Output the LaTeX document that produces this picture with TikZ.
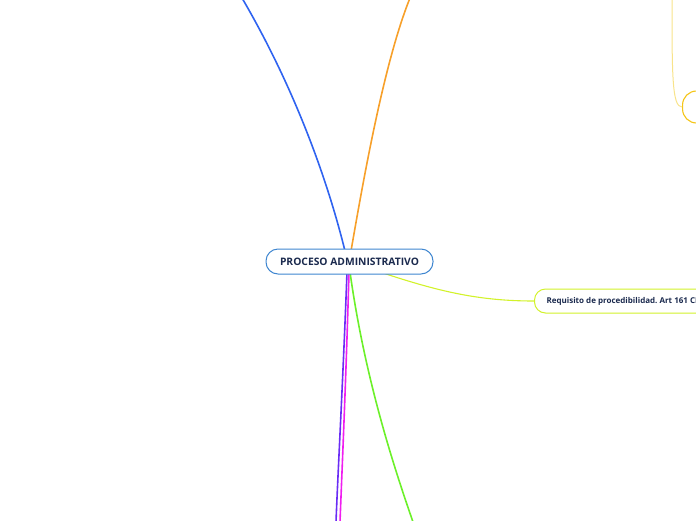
\documentclass[tikz,border=0pt]{standalone}
\usepackage{fontspec}
\setmainfont{Open Sans}
\definecolor{navy}{HTML}{1B2A4E}
\definecolor{cborder}{HTML}{3F86D0}
\definecolor{cblue}{HTML}{2F63F0}
\definecolor{corange}{HTML}{F7A02A}
\definecolor{clime}{HTML}{D2F22A}
\definecolor{cpale}{HTML}{F8E38A}
\definecolor{cyellow}{HTML}{F5C518}
\definecolor{cgreen}{HTML}{6CF02A}
\definecolor{cviolet}{HTML}{6A2CF5}
\definecolor{cmagenta}{HTML}{F01EF0}
\begin{document}
\begin{tikzpicture}[x=1pt,y=-1pt,
  mainbox/.style={draw=cborder,line width=1pt,rounded corners=12pt,fill=white,
    minimum width=167pt,minimum height=25pt,inner sep=0pt,text=navy,
    font=\fontsize{10.3}{12}\selectfont\bfseries},
  subbox/.style={draw=clime,line width=1pt,rounded corners=11pt,fill=white,
    minimum height=24pt,inner xsep=12pt,inner ysep=0pt,text=navy,anchor=west,
    font=\fontsize{8}{9}\selectfont\bfseries},
  branch/.style={line width=1.6pt}]
\useasboundingbox (0,0) rectangle (696,520);
\clip (0,0) rectangle (696,520);
\coordinate (topblue) at (242,-2);
\coordinate (toporange) at (410,-2);
\coordinate (botviolet) at (336,522);
\coordinate (botmagenta) at (340,522);
\coordinate (botgreen) at (413,522);
\coordinate (toppale) at (672,-2);
% branches
\draw[branch,cblue] (345,251) .. controls (325,170) and (290,80) .. (topblue);
\draw[branch,corange] (351,251) .. controls (365,170) and (385,60) .. (toporange);
\draw[branch,cgreen] (350,272) .. controls (365,380) and (395,470) .. (botgreen);
\draw[branch,cviolet] (347,272) .. controls (343,380) and (338,470) .. (botviolet);
\draw[branch,cmagenta] (349,272) .. controls (346,380) and (342,470) .. (botmagenta);
\node[subbox] (req) at (534,301) {Requisito de procedibilidad.\ Art 161 CPACA};
\draw[line width=1.1pt,clime] (380,272) .. controls (440,292) and (480,301) .. (req.west);
\node[draw=cyellow,line width=1.1pt,rounded corners=14pt,fill=white,minimum height=32pt,
  minimum width=60pt,anchor=west] (yel) at (682,107) {};
\draw[line width=1pt,cpale] (toppale) .. controls (672,75) and (672,107) .. (yel.west);
\node[mainbox] (main) at (349.5,261.5) {PROCESO ADMINISTRATIVO};
\end{tikzpicture}
\end{document}
